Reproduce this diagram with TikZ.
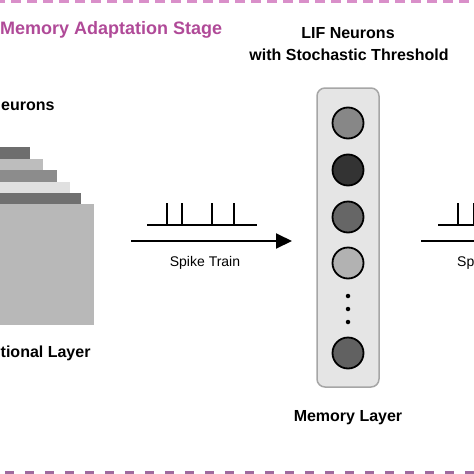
\documentclass[tikz,border=0pt]{standalone}
\usepackage{fontspec}
\setmainfont{Liberation Sans}
\usetikzlibrary{arrows.meta}
\definecolor{pinkdash}{HTML}{D98FC9}
\definecolor{purpdash}{HTML}{A06A9E}
\definecolor{stagepink}{HTML}{B04A98}
\tikzset{
  lbl/.style={font=\fontsize{16}{18}\selectfont\bfseries, inner sep=0pt},
  neuron/.style={circle, draw=black, line width=1.8pt, minimum size=31pt, inner sep=0pt},
  dotn/.style={circle, fill=black, minimum size=4.5pt, inner sep=0pt},
  spk/.style={line width=2.4pt},
  base/.style={line width=1.7pt},
  bigarrow/.style={line width=2pt, -{Triangle[length=16pt,width=15pt]}},
  layerbar/.style={draw=none, inner sep=0pt, anchor=north west},
}
\begin{document}
\begin{tikzpicture}[x=1pt,y=-1pt]
\useasboundingbox (0,0) rectangle (474,474);
\clip (0,0) rectangle (474,474);
% dashed frame lines
\coordinate (tl) at (-5,1.5); \coordinate (tr) at (480,1.5);
\draw[pinkdash, line width=3pt, dash pattern=on 10pt off 6pt] (tl) -- (tr);
\coordinate (bl) at (-5,472); \coordinate (br) at (480,472);
\draw[purpdash, line width=3pt, dash pattern=on 9pt off 11pt, dash phase=-10pt] (bl) -- (br);
% titles
\node[lbl, text=stagepink, font=\fontsize{18}{20}\selectfont\bfseries, anchor=base west] (stage) at (0,34) {Memory Adaptation Stage};
\node[lbl, anchor=base] (lif1) at (348,38) {LIF Neurons};
\node[lbl, anchor=base] (lif2) at (349,60) {with Stochastic Threshold};
\node[lbl, anchor=base west] (neu) at (1,110) {eurons};
% convolutional stack
\node[layerbar, fill=black!57, minimum width=40pt, minimum height=12pt] (b1) at (-10,147) {};
\node[layerbar, fill=black!26, minimum width=53pt, minimum height=11pt] (b2) at (-10,159) {};
\node[layerbar, fill=black!45, minimum width=67pt, minimum height=12pt] (b3) at (-10,170) {};
\node[layerbar, fill=black!12, minimum width=80pt, minimum height=11pt] (b4) at (-10,182) {};
\node[layerbar, fill=black!56, minimum width=91pt, minimum height=11pt] (b5) at (-10,193) {};
\node[layerbar, fill=black!28, minimum width=104pt, minimum height=121pt] (b6) at (-10,204) {};
\node[lbl, anchor=base west] (conv) at (0.5,357) {tional Layer};
% spike train 1
\coordinate (s1a) at (147,225); \coordinate (s1b) at (257,225);
\draw[base] (s1a) -- (s1b);
\foreach \x in {167,182,212,234} \draw[spk] (\x,225) -- (\x,203);
\coordinate (a1s) at (131,241); \coordinate (a1e) at (292,241);
\draw[bigarrow] (a1s) -- (a1e);
\node[inner sep=0pt, anchor=base, font=\fontsize{14}{16}\selectfont] (st1) at (205,266) {Spike Train};
% memory layer
\node[draw=black!35, fill=black!10, line width=1.5pt, rounded corners=8pt, minimum width=62pt, minimum height=299pt, inner sep=0pt] (mem) at (348,237.5) {};
\node[neuron, fill=black!47] (n1) at (348,123) {};
\node[neuron, fill=black!80] (n2) at (348,170) {};
\node[neuron, fill=black!60] (n3) at (348,217) {};
\node[neuron, fill=black!30] (n4) at (348,263) {};
\node[dotn] (d1) at (348,296) {};
\node[dotn] (d2) at (348,309) {};
\node[dotn] (d3) at (348,322) {};
\node[neuron, fill=black!62] (n5) at (348,353) {};
\node[lbl, anchor=base] (meml) at (348,421) {Memory Layer};
% spike train 2 (cut at right)
\coordinate (s2a) at (438,225); \coordinate (s2b) at (480,225);
\draw[base] (s2a) -- (s2b);
\foreach \x in {458,474.5} \draw[spk] (\x,225) -- (\x,203);
\coordinate (a2s) at (421,241); \coordinate (a2e) at (480,241);
\draw[line width=2pt] (a2s) -- (a2e);
\node[inner sep=0pt, anchor=base west, font=\fontsize{14}{16}\selectfont] (st2) at (457,266) {Sp};
\end{tikzpicture}
\end{document}
